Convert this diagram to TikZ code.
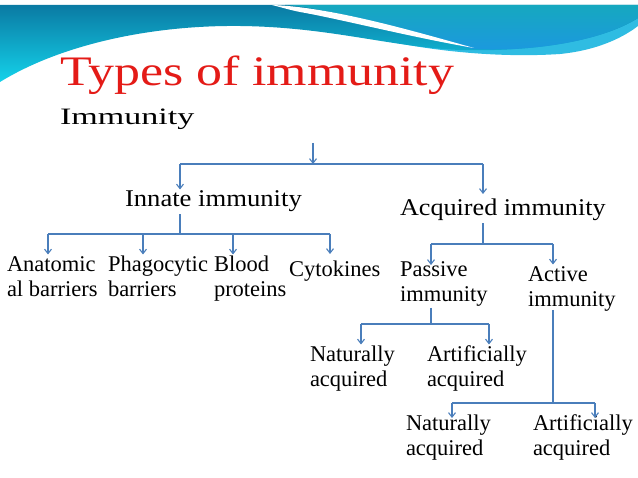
\documentclass[tikz,border=0pt]{standalone}
\usepackage{fontspec}
\setmainfont{Liberation Serif}
\usepackage{graphicx}
\usetikzlibrary{arrows.meta,calc}
\definecolor{lineblue}{HTML}{4A7EBB}
\definecolor{titlered}{HTML}{E41B17}
\definecolor{hdrTop}{HTML}{0A7AA3}
\definecolor{hdrBot}{HTML}{14D2EA}
\definecolor{hdrRTop}{HTML}{16A8BF}
\definecolor{hdrRBot}{HTML}{1C98E0}
\definecolor{hdrStrip}{HTML}{2FBCE2}
\newcommand{\lines}[1]{\begin{tabular}[t]{@{}l@{}}#1\end{tabular}}
\begin{document}
\begin{tikzpicture}[x=1pt,y=-1pt,
  lbl/.style={anchor=base west, inner sep=0pt, outer sep=0pt, text=black,
              font=\fontsize{22.5}{25}\selectfont},
  big/.style={lbl, font=\fontsize{24}{25}\selectfont},
  conn/.style={draw=lineblue, line width=1.1pt},
  arr/.style={conn, -{Straight Barb[length=4.5pt,width=7pt]}}]
\useasboundingbox (0,0) rectangle (638,478);
\fill[white] (0,0) rectangle (638,478);

% header
\fill[hdrStrip] (330,10) -- (340,30) .. controls (420,52) and (500,58) .. (560,54)
   .. controls (600,50) and (625,36) .. (638,26) -- (638,10) -- cycle;
\shade[top color=hdrTop, bottom color=hdrBot] (0,5) -- (638,5) -- (638,18)
   .. controls (600,42) and (530,52) .. (460,50)
   .. controls (390,47) and (330,27) .. (240,26)
   .. controls (150,25) and (60,45) .. (0,82) -- cycle;
\shade[top color=hdrRTop, bottom color=hdrRBot] (285,5) -- (638,5) -- (638,18)
   .. controls (600,42) and (530,52) .. (472,49)
   .. controls (410,32) and (330,8) .. (285,5) -- cycle;
\fill[white] (272,5) .. controls (330,7) and (410,30) .. (474,48)
   .. controls (410,37) and (340,19) .. (300,12)
   .. controls (290,10) and (280,7) .. (272,5) -- cycle;

% texts
\node[lbl, font=\fontsize{42}{46}\selectfont, text=titlered] (title) at (60,86)
   {\scalebox{1.236}[1]{Types of immunity}};
\node[lbl, font=\fontsize{23.5}{25}\selectfont] (immunity) at (60,125)
   {\scalebox{1.45}[1]{Immunity}};
\node[big] (innate) at (125,207) {\lines{\scalebox{1.11}[1]{Innate immunity}}};
\node[big] (acquired) at (400,216) {\lines{\scalebox{1.09}[1]{Acquired immunity}}};
\node[lbl] (anat) at (7,272) {\lines{Anatomic\\al barriers}};
\node[lbl] (phago) at (108,272) {\lines{Phagocytic\\barriers}};
\node[lbl] (blood) at (214,272) {\lines{Blood\\proteins}};
\node[lbl] (cyto) at (289,277) {\lines{Cytokines}};
\node[lbl] (passive) at (400,277) {\lines{Passive\\immunity}};
\node[lbl] (active) at (528,282) {\lines{Active\\immunity}};
\node[lbl] (nat1) at (310,362) {\lines{Naturally\\acquired}};
\node[lbl] (art1) at (427,362) {\lines{Artificially\\acquired}};
\node[lbl] (nat2) at (406,431) {\lines{Naturally\\acquired}};
\node[lbl] (art2) at (533,431) {\lines{Artificially\\acquired}};

% junction coordinates
\coordinate (top) at (313,143);
\coordinate (b1) at (313,164);
\coordinate (b1l) at (180,164);
\coordinate (b1r) at (483,164);
\coordinate (b2) at (180,234);
\coordinate (b2l) at (48,234);
\coordinate (b2p) at (143,234);
\coordinate (b2b) at (233,234);
\coordinate (b2r) at (330,234);
\coordinate (b3) at (483,244);
\coordinate (b3l) at (431,244);
\coordinate (b3r) at (553,244);
\coordinate (b4) at (431,324);
\coordinate (b4l) at (361,324);
\coordinate (b4r) at (489,324);
\coordinate (b5) at (553,403);
\coordinate (b5l) at (452,403);
\coordinate (b5r) at (595,403);

% connectors
\draw[arr] (top) -- (b1);
\draw[conn] (b1l) -- (b1r);
\draw[arr] (b1l) -- (b1l |- innate.north);
\draw[arr] (b1r) -- ($(b1r |- acquired.north)+(0,-4.5)$);

\draw[conn] (b2 |- innate.south) -- (b2);
\draw[conn] (b2l) -- (b2r);
\draw[arr] (b2l) -- (b2l |- anat.north);
\draw[arr] (b2p) -- (b2p |- phago.north);
\draw[arr] (b2b) -- (b2b |- blood.north);
\draw[arr] (b2r) -- ($(b2r |- cyto.north)+(0,-5.5)$);

\draw[conn] (b3 |- acquired.south) -- (b3);
\draw[conn] (b3l) -- (b3r);
\draw[arr] (b3l) -- ($(b3l |- passive.north)+(0,5.5)$);
\draw[arr] (b3r) -- (b3r |- active.north);

\draw[conn] ($(b4 |- passive.south)+(0,-1.5)$) -- (b4);
\draw[conn] (b4l) -- (b4r);
\draw[arr] (b4l) -- (b4l |- nat1.north);
\draw[arr] (b4r) -- (b4r |- art1.north);

\draw[conn] ($(b5 |- active.south)+(0,-4.5)$) -- (b5);
\draw[conn] (b5l) -- (b5r);
\draw[arr] (b5l) -- ($(b5l |- nat2.north)+(0,4.5)$);
\draw[arr] (b5r) -- ($(b5r |- art2.north)+(0,4.5)$);
\end{tikzpicture}
\end{document}
